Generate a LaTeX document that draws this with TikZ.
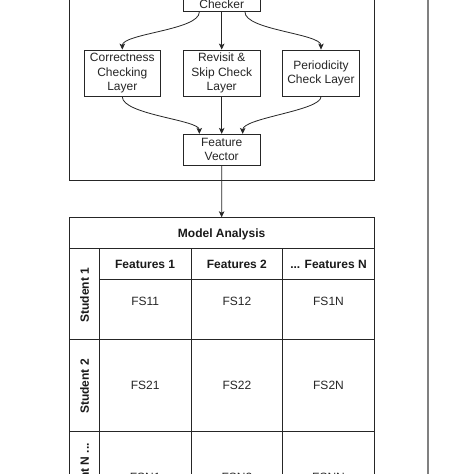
\documentclass[tikz,border=0pt]{standalone}
\usepackage{fontspec}
\setmainfont{Liberation Sans}
\usetikzlibrary{arrows.meta,calc}
\begin{document}
\begin{tikzpicture}[x=1pt,y=-1pt,
  line/.style={draw=black!85,line width=0.8pt},
  arr/.style={line,-{Stealth[length=6pt,width=5.5pt,inset=1.5pt]}},
  box/.style={line,rectangle,inner sep=0pt,align=center,text=black!85,
    font=\fontsize{12}{14.4}\selectfont},
  stepbox/.style={box,minimum width=76.7pt,minimum height=46.3pt},
  cell/.style={line,rectangle,inner sep=0pt},
  txt/.style={inner sep=0pt,text=black!85,font=\fontsize{12}{14.4}\selectfont},
  btxt/.style={inner sep=0pt,text=black!90,font=\fontsize{12}{14.4}\selectfont\bfseries},
  hcell/.style={cell,minimum width=91.7pt,minimum height=30.7pt}
]
\useasboundingbox (0,0) rectangle (474,474);
\clip (0,0) rectangle (474,474);
\fill[white] (0,0) rectangle (474,474);

% right gray line
\coordinate (gt) at (428,-5);
\coordinate (gb) at (428,480);
\draw[draw=black!50,line width=1.1pt] (gt) -- (gb);

% outer container
\node[cell,minimum width=305.3pt,minimum height=220.3pt] (outer) at (221.65,70.15) {};

% upper boxes
\node[box,minimum width=76.7pt,minimum height=30.7pt] (chk) at (221.7,-3.65) {};
\node[txt,anchor=base] (chkt) at (221.7,8.2) {Checker};
\node[stepbox] (cc) at (122.3,73.15) {Correctness\\Checking\\Layer};
\node[stepbox] (rs) at (221.7,73.15) {Revisit \&\\Skip Check\\Layer};
\node[stepbox] (pc) at (321,73.15) {Periodicity\\Check Layer};
\node[box,minimum width=76.7pt,minimum height=30.7pt] (fv) at (221.7,149.65) {Feature\\Vector};

% connectors
\draw[arr] ([xshift=-22.4pt]chk.south) .. controls +(0,18) and +(0,-16) .. (cc.north);
\draw[arr] (chk.south) -- (rs.north);
\draw[arr] ([xshift=23.3pt]chk.south) .. controls +(0,18) and +(0,-16) .. (pc.north);
\draw[arr] (cc.south) .. controls +(0,18) and +(0,-14) .. ([xshift=-22.4pt]fv.north);
\draw[arr] (rs.south) -- (fv.north);
\draw[arr] (pc.south) .. controls +(0,14) and +(0,-16) .. ([xshift=21pt]fv.north);

% table
\node[cell,minimum width=305.3pt,minimum height=30.6pt] (ma) at (221.65,233) {};
\node[btxt] (mat) at (221.65,234) {Model Analysis};
\draw[arr] (fv.south) -- (ma.north);

% student column
\node[cell,rotate=90,minimum width=91.4pt,minimum height=30.3pt] (s1) at (84.15,294) {};
\node[btxt,rotate=90] (s1t) at (84.6,295) {Student 1};
\node[cell,rotate=90,minimum width=91.6pt,minimum height=30.3pt] (s2) at (84.15,385.5) {};
\node[btxt,rotate=90] (s2t) at (84.6,386.5) {Student 2};
\node[cell,rotate=90,minimum width=91.6pt,minimum height=30.3pt] (sN) at (84.15,477.1) {};
\node[btxt,rotate=90] (sNt) at (84.6,478) {Student N ...};

% header row
\node[hcell] (h1) at (145.15,263.65) {};
\node[btxt] (h1t) at (145.15,264) {Features 1};
\node[hcell] (h2) at (236.85,263.65) {};
\node[btxt] (h2t) at (236.85,264) {Features 2};
\node[hcell] (h3) at (328.5,263.65) {};
\node[btxt] (h3t) at (328.5,264) {... Features N};

% data rows
\foreach \x/\n/\a/\b/\c in {145.15/1/FS11/FS21/FSN1,236.85/2/FS12/FS22/FSN2,328.5/3/FS1N/FS2N/FSNN}{
  \node[cell,minimum width=91.7pt,minimum height=60.7pt] (r1\n) at (\x,309.35) {};
  \node[txt] (r1\n t) at (\x,301.7) {\a};
  \node[cell,minimum width=91.7pt,minimum height=91.6pt] (r2\n) at (\x,385.5) {};
  \node[txt] (r2\n t) at (\x,385.7) {\b};
  \node[cell,minimum width=91.7pt,minimum height=91.6pt] (r3\n) at (\x,477.1) {};
  \node[txt] (r3\n t) at (\x,477.5) {\c};
}
\end{tikzpicture}
\end{document}
